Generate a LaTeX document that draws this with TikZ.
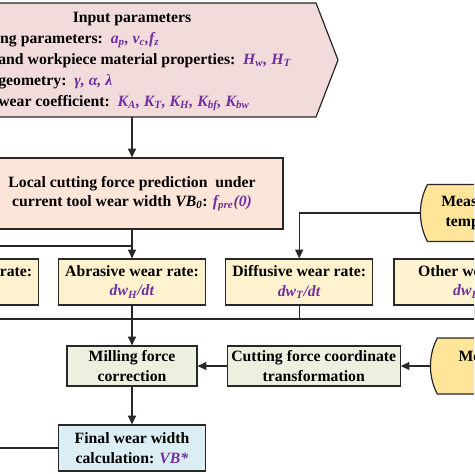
\documentclass[tikz,border=0pt]{standalone}
\usepackage{fontspec}
\setmainfont{Liberation Serif}
\definecolor{inpink}{RGB}{242,220,219}
\definecolor{peach}{RGB}{251,229,216}
\definecolor{paleyellow}{RGB}{255,242,206}
\definecolor{measyellow}{RGB}{255,229,153}
\definecolor{palegreen}{RGB}{235,241,222}
\definecolor{paleblue}{RGB}{219,238,244}
\definecolor{mathpurple}{RGB}{112,48,160}
\definecolor{edgegray}{RGB}{40,40,40}
\usetikzlibrary{arrows.meta, shapes.misc, positioning}
\newcommand{\pv}[1]{\textcolor{mathpurple}{\textit{#1}}}

\begin{document}
\begin{tikzpicture}[
        x=0.75pt, y=-0.75pt,
        font=\fontsize{11.8}{14.5}\selectfont\bfseries,
        box/.style={draw=edgegray, line width=0.9pt, align=center,
                    inner sep=2pt, minimum height=34.5pt},
        wearbox/.style={box, fill=paleyellow, minimum width=110.25pt},
        measbox/.style={draw=edgegray, line width=0.9pt, fill=measyellow,
                    rounded rectangle, rounded rectangle arc length=55,
                    align=center},
        arr/.style={-{Triangle[length=6.5pt, width=6pt]}, line width=0.8pt, edgegray},
        link/.style={line width=0.8pt, edgegray}
      ]
        \useasboundingbox (0,0) rectangle (474,474);
        \clip (0,0) rectangle (474,474);
        \fill[white] (0,0) rectangle (474,474);

        \draw[draw=edgegray, line width=0.9pt, fill=inpink]
          (-60,3) -- (316,3) -- (338,60) -- (316,117) -- (-60,117) -- cycle;
        \node (inhead) at (132,19) {Input parameters};
        \node[anchor=west, align=left, inner sep=0pt,
              font=\fontsize{11.8}{15.75}\selectfont\bfseries] (inlist) at (-35,71.5)
          {Cutting parameters:~~\pv{a\textsubscript{p}, v\textsubscript{c},f\textsubscript{z}}\\
           Tool and workpiece material properties:~~\pv{H\textsubscript{w}, H\textsubscript{T}}\\
           Tool geometry:~~\pv{γ, α, λ}\\
           Tool wear coefficient:~~\pv{K\textsubscript{A}, K\textsubscript{T}, K\textsubscript{H}, K\textsubscript{bf}, K\textsubscript{bw}}};
        \coordinate (inbot) at (132,117);

        \node[box, fill=peach, minimum width=226.5pt, minimum height=53.25pt] (local) at (132,193.5)
          {Local cutting force prediction~ under\\
           current tool wear width \textit{VB\textsubscript{0}}: \pv{f\textsubscript{pre}(0)}};
        \node[measbox, minimum width=107.25pt, minimum height=42.75pt] (meastemp) at (487.5,213)
          {Measurement\\temperature};

        \node[wearbox] (abr) at (132,282) {Abrasive wear rate:\\\pv{dw\textsubscript{H}/dt}};
        \node[wearbox, left=14.25pt of abr] (adh) {Adhesive wear rate:\\\pv{dw\textsubscript{A}/dt}};
        \node[wearbox, right=14.25pt of abr] (dif) {Diffusive wear rate:\\\pv{dw\textsubscript{T}/dt}};
        \node[wearbox, right=15pt of dif, minimum width=121.5pt] (oth) {Other wear rate:\\\pv{dw\textsubscript{B}/dt}};

        \node[box, fill=palegreen, minimum width=97.5pt, minimum height=30pt] (mill) at (132,366)
          {Milling force\\correction};
        \node[box, fill=palegreen, minimum width=129.75pt, minimum height=30pt, right=21.75pt of mill] (cut)
          {Cutting force coordinate\\transformation};
        \node[measbox, minimum width=99pt, minimum height=42pt] (mforce) at (492,366)
          {Measured\\force};

        \node[box, fill=paleblue, minimum width=110.25pt] (fin) at (132,448)
          {Final wear width\\calculation: \pv{VB*}};

        \coordinate (split) at (0,246);
        \coordinate (bus) at (0,319);
        \coordinate (back) at (-60,448);

        \draw[arr] (inbot) -- (local.north);
        \draw[arr] (local.south) -- (abr.north);
        \draw[arr] (split -| local.south) -| (adh.north);
        \draw[arr] (meastemp.west) -| (dif.north);
        \draw[link] (adh.south) -- (adh.south |- bus) -- (oth.south |- bus) -- (oth.south);
        \draw[link] (dif.south) -- (dif.south |- bus);
        \draw[arr] (abr.south) -- (mill.north);
        \draw[arr] (cut.west) -- (mill.east);
        \draw[arr] (mforce.west) -- (cut.east);
        \draw[arr] (mill.south) -- (fin.north);
        \draw[link] (fin.west) -- (back);
      \end{tikzpicture}
\end{document}
